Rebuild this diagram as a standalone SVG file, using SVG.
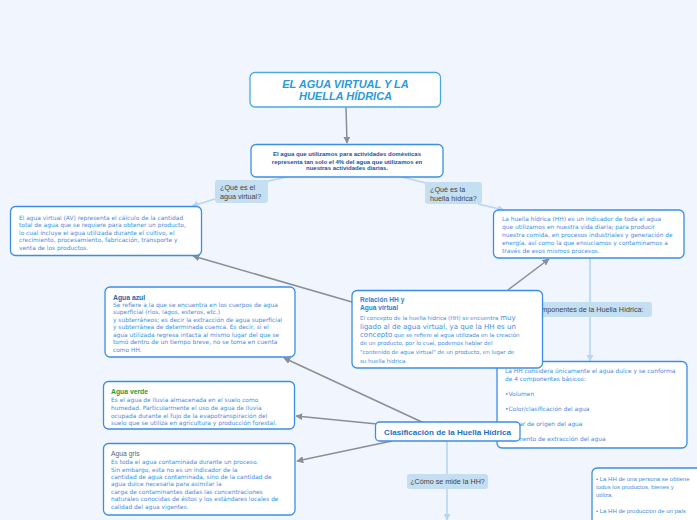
<svg xmlns="http://www.w3.org/2000/svg" width="697" height="520" viewBox="0 0 697 520">
<defs>
<marker id="ag" viewBox="0 0 10 10" refX="9" refY="5" markerWidth="7" markerHeight="7" orient="auto" markerUnits="userSpaceOnUse"><path d="M0,0 L10,5 L0,10 z" fill="#8a8e99"/></marker>
<marker id="ab" viewBox="0 0 10 10" refX="9" refY="5" markerWidth="7" markerHeight="7" orient="auto" markerUnits="userSpaceOnUse"><path d="M0,0 L10,5 L0,10 z" fill="#b7d6f0"/></marker>
<style>
.n{fill:#fff;stroke:#3a8ee4;stroke-width:1.3}
.lb{fill:#c4def2;stroke:none}
.g{stroke:#8a8e99;stroke-width:1.5;fill:none}
.b{stroke:#b7d6f0;stroke-width:1.6;fill:none}
text{font-family:"Liberation Sans",Arial,sans-serif}
.t{font-family:"DejaVu Sans",Verdana,sans-serif;font-size:5.9px;fill:#3f8de2}
.lt{font-size:7.2px;fill:#444}
.h{font-size:6.8px;font-weight:bold}
</style>
</defs>
<rect width="697" height="520" fill="#f1f5fd"/>
<g id="connectors">
<line class="g" x1="346" y1="107" x2="347" y2="143" marker-end="url(#ag)"/>
<line class="b" x1="287" y1="177" x2="264" y2="182"/>
<line class="b" x1="215" y1="199" x2="192" y2="206" marker-end="url(#ab)"/>
<line class="b" x1="402" y1="177" x2="430" y2="184"/>
<line class="b" x1="478" y1="204" x2="504" y2="210" marker-end="url(#ab)"/>
<line class="b" x1="590" y1="258" x2="590" y2="303"/>
<line class="b" x1="590" y1="316" x2="590" y2="361" marker-end="url(#ab)"/>
<line class="b" x1="447" y1="441" x2="447" y2="475"/>
<line class="b" x1="447" y1="488" x2="447" y2="520" marker-end="url(#ab)"/>
<line class="g" x1="352" y1="302" x2="193" y2="256" marker-end="url(#ag)"/>
<line class="g" x1="508" y1="290" x2="549" y2="259" marker-end="url(#ag)"/>
<line class="g" x1="424" y1="423" x2="284" y2="358" marker-end="url(#ag)"/>
<line class="g" x1="377" y1="424" x2="296" y2="416" marker-end="url(#ag)"/>
<line class="g" x1="392" y1="441" x2="297" y2="461" marker-end="url(#ag)"/>
</g>
<g id="title">
<rect x="250" y="72.5" width="190.5" height="34.5" rx="5" fill="#fff" stroke="#4aa9e2" stroke-width="1.3"/>
<text x="345.5" y="87.5" text-anchor="middle" font-size="11" font-weight="bold" font-style="italic" fill="#2a9ad8">EL AGUA VIRTUAL Y LA</text>
<text x="345.5" y="100" text-anchor="middle" font-size="11" font-weight="bold" font-style="italic" fill="#2a9ad8">HUELLA HÍDRICA</text>
</g>
<g id="central">
<rect class="n" x="251" y="144.5" width="192" height="32.5" rx="5" stroke="#2a7ec8"/>
<text text-anchor="middle" font-size="6" font-weight="bold" fill="#1d52a0"><tspan x="347" y="156">El agua que utilizamos para actividades domésticas</tspan><tspan x="347" y="163.6">representa tan solo el 4% del agua que utilizamos en</tspan><tspan x="347" y="170.4">nuestras actividades diarias.</tspan></text>
</g>
<g id="lbl-av">
<rect class="lb" x="215" y="180" width="53" height="23" rx="3"/>
<text class="lt"><tspan x="220" y="190">¿Qué es el</tspan><tspan x="220" y="198.5">agua virtual?</tspan></text>
</g>
<g id="lbl-hh">
<rect class="lb" x="425" y="182" width="57" height="22" rx="3"/>
<text class="lt"><tspan x="430" y="192">¿Qué es la</tspan><tspan x="430" y="200.5">huella hídrica?</tspan></text>
</g>
<g id="av">
<rect class="n" x="10.5" y="206.5" width="191" height="49" rx="5"/>
<text class="t"><tspan x="19" y="219.5">El agua virtual (AV) representa el cálculo de la cantidad</tspan><tspan x="19" y="227">total de agua que se requiere para obtener un producto,</tspan><tspan x="19" y="234.7">lo cual incluye el agua utilizada durante el cultivo, el</tspan><tspan x="19" y="242">crecimiento, procesamiento, fabricación, transporte y</tspan><tspan x="19" y="249.7">venta de los productos.</tspan></text>
</g>
<g id="hh">
<rect class="n" x="493.5" y="210" width="190.5" height="48" rx="5"/>
<text class="t"><tspan x="502" y="221.3">La huella hídrica (HH) es un indicador de toda el agua</tspan><tspan x="502" y="229">que utilizamos en nuestra vida diaria; para producir</tspan><tspan x="502" y="237">nuestra comida, en procesos industriales y generación de</tspan><tspan x="502" y="245">energía, así como la que ensuciamos y contaminamos a</tspan><tspan x="502" y="252.7">través de esos mismos procesos.</tspan></text>
</g>
<g id="lbl-comp">
<rect class="lb" x="526" y="302" width="126" height="15" rx="3"/>
<text class="lt" x="532" y="312">Componentes de la Huella Hídrica:</text>
</g>
<g id="comp">
<rect class="n" x="497" y="361.5" width="190" height="86.5" rx="5"/>
<text class="t"><tspan x="505" y="373">La HH considera únicamente el agua dulce y se conforma</tspan><tspan x="505" y="381">de 4 componentes básicos:</tspan><tspan x="505" y="396">•Volumen</tspan><tspan x="505" y="411">•Color/clasificación del agua</tspan><tspan x="505" y="426">•Lugar de origen del agua</tspan><tspan x="505" y="441">•Momento de extracción del agua</tspan></text>
</g>
<g id="relacion">
<rect class="n" x="352" y="290.5" width="190.5" height="77.5" rx="5"/>
<text font-size="6.6" font-weight="bold" fill="#2f7fd8"><tspan x="360" y="302">Relación HH y</tspan><tspan x="360" y="310">Agua   virtual</tspan></text>
<text class="t" fill="#4a90e2"><tspan x="360" y="320" font-size="5.5">El concepto de la huella hídrica (HH) se encuentra <tspan font-size="7">muy</tspan></tspan><tspan x="360" y="328.5" font-size="7">ligado al de agua virtual, ya que la HH es un</tspan><tspan x="360" y="336.5"><tspan font-size="7">concepto</tspan><tspan font-size="5.5"> que se refiere al agua utilizada en la creación</tspan></tspan><tspan x="360" y="345" font-size="5.5">de un producto, por lo cual, podemos hablar del</tspan><tspan x="360" y="353.5" font-size="5.5">"contenido de agua virtual" de un producto, en lugar de</tspan><tspan x="360" y="362.5" font-size="5.5">su huella hídrica.</tspan></text>
</g>
<g id="azul">
<rect class="n" x="105" y="287" width="190" height="70" rx="5"/>
<text class="h" x="113" y="299.5" fill="#1a66b0">Agua azul</text>
<text class="t"><tspan x="113" y="306.7">Se refiere a la que se encuentra en los cuerpos de agua</tspan><tspan x="113" y="314">superficial (ríos, lagos, esteros, etc.)</tspan><tspan x="113" y="321.7">y subterráneos; es decir la extracción de agua superficial</tspan><tspan x="113" y="329">y subterránea de determinada cuenca. Es decir, si el</tspan><tspan x="113" y="336.7">agua utilizada regresa intacta al mismo lugar del que se</tspan><tspan x="113" y="344">tomó dentro de un tiempo breve, no se toma en cuenta</tspan><tspan x="113" y="351.7">como HH.</tspan></text>
</g>
<g id="verde">
<rect class="n" x="103.5" y="381.5" width="191" height="47.5" rx="5"/>
<text class="h" x="111" y="393.5" fill="#1f9a3c">Agua verde</text>
<text class="t"><tspan x="111" y="402">Es el agua de lluvia almacenada en el suelo como</tspan><tspan x="111" y="410">humedad. Particularmente el uso de agua de lluvia</tspan><tspan x="111" y="417.7">ocupada durante el fujo de la evapotranspiración del</tspan><tspan x="111" y="425">suelo que se utiliza en agricultura y producción forestal.</tspan></text>
</g>
<g id="gris">
<rect class="n" x="103.5" y="443.5" width="191.5" height="71.5" rx="5"/>
<text x="111" y="455.5" font-size="6.8" fill="#666">Agua gris</text>
<text class="t"><tspan x="111" y="464">Es toda el agua contaminada durante un proceso.</tspan><tspan x="111" y="471.7">Sin embargo, esta no es un indicador de la</tspan><tspan x="111" y="479">cantidad de agua contaminada, sino de la cantidad de</tspan><tspan x="111" y="486.3">agua dulce necesaria para asimilar la</tspan><tspan x="111" y="494">carga de contaminantes dadas las concentraciones</tspan><tspan x="111" y="501.3">naturales conocidas de éstos y los estándares locales de</tspan><tspan x="111" y="509">calidad del agua vigentes.</tspan></text>
</g>
<g id="clasificacion">
<rect class="n" x="375.5" y="422" width="144.5" height="19" rx="4"/>
<text x="447.5" y="434.8" text-anchor="middle" font-size="8.1" font-weight="bold" fill="#1f6fc8">Clasificación de la Huella Hídrica</text>
</g>
<g id="lbl-como">
<rect class="lb" x="407" y="474" width="81" height="15" rx="3"/>
<text class="lt" x="447.5" y="484" text-anchor="middle">¿Cómo se mide la HH?</text>
</g>
<g id="calculo">
<rect class="n" x="592" y="468" width="120" height="65" rx="5"/>
<text font-size="6" fill="#3f8de2"><tspan x="596" y="481">• La HH de una persona se obtiene</tspan><tspan x="596" y="489">todos los productos, bienes y</tspan><tspan x="596" y="497">utiliza.</tspan><tspan x="596" y="513">• La HH de producción de un país</tspan></text>
</g>
</svg>
